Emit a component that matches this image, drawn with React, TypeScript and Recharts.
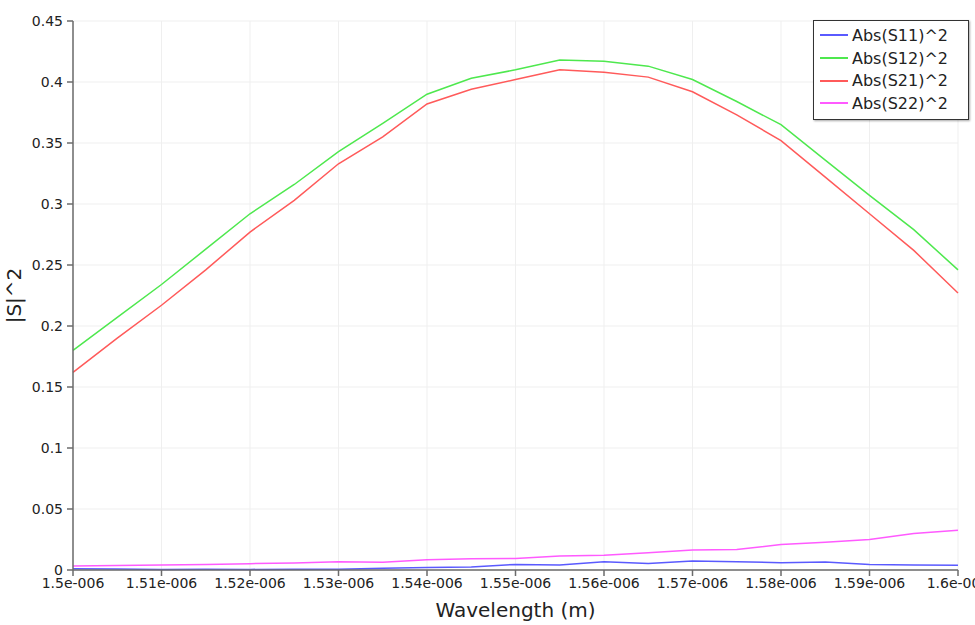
import { CartesianGrid, Label, Legend, Line, LineChart, XAxis, YAxis } from "recharts"

// wavelength samples (m)
const wavelengths = [
  1.5e-6, 1.505e-6, 1.51e-6, 1.515e-6, 1.52e-6, 1.525e-6, 1.53e-6, 1.535e-6, 1.54e-6, 1.545e-6, 1.55e-6,
  1.555e-6, 1.56e-6, 1.565e-6, 1.57e-6, 1.575e-6, 1.58e-6, 1.585e-6, 1.59e-6, 1.595e-6, 1.6e-6,
]

const s11 = [
  0.0011, 0.0008, 0.0005, 0.0006, 0.0005, 0.0006, 0.0007, 0.0014, 0.002, 0.0025, 0.0046, 0.004, 0.0068, 0.0054,
  0.0073, 0.0068, 0.006, 0.0065, 0.0046, 0.004, 0.0038,
]
const s12 = [
  0.18, 0.207, 0.234, 0.263, 0.292, 0.316, 0.343, 0.366, 0.39, 0.403, 0.41, 0.418, 0.417, 0.413, 0.402, 0.384,
  0.365, 0.336, 0.307, 0.279, 0.246,
]
const s21 = [
  0.162, 0.19, 0.217, 0.246, 0.277, 0.303, 0.333, 0.355, 0.382, 0.394, 0.402, 0.41, 0.408, 0.404, 0.392, 0.373,
  0.352, 0.322, 0.292, 0.262, 0.227,
]
const s22 = [
  0.0033, 0.0037, 0.0041, 0.0046, 0.0052, 0.0058, 0.0068, 0.0064, 0.0085, 0.0092, 0.0095, 0.0114, 0.012, 0.0141,
  0.0163, 0.0168, 0.0209, 0.0228, 0.025, 0.0299, 0.0326,
]

const xTicks = [1.5e-6, 1.51e-6, 1.52e-6, 1.53e-6, 1.54e-6, 1.55e-6, 1.56e-6, 1.57e-6, 1.58e-6, 1.59e-6, 1.6e-6]
const xTickLabels = [
  "1.5e-006", "1.51e-006", "1.52e-006", "1.53e-006", "1.54e-006", "1.55e-006",
  "1.56e-006", "1.57e-006", "1.58e-006", "1.59e-006", "1.6e-006",
]
const yTicks = [0, 0.05, 0.1, 0.15, 0.2, 0.25, 0.3, 0.35, 0.4, 0.45]
const yTickLabels = ["0", "0.05", "0.1", "0.15", "0.2", "0.25", "0.3", "0.35", "0.4", "0.45"]

const data = wavelengths.map((wl, i) => ({ wl, s11: s11[i], s12: s12[i], s21: s21[i], s22: s22[i] }))

const font = "DejaVu Sans, sans-serif"
const axisColor = "#6b6b6b"

function LegendBox({ payload }: any) {
  return (
    <div
      style={{
        border: "1.5px solid #333",
        boxShadow: "1px 1px 2px rgba(0,0,0,0.35)",
        background: "#fff",
        padding: "3px 6px 4px 6px",
        fontFamily: font,
        fontSize: 16,
        color: "#222",
      }}
    >
      {(payload || []).map((p: any) => (
        <div key={p.value} style={{ display: "flex", alignItems: "center", height: 22.7 }}>
          <span style={{ display: "inline-block", width: 28, height: 2, background: p.color, marginRight: 4 }} />
          <span>{p.value}</span>
        </div>
      ))}
    </div>
  )
}

export default function App() {
  return (
    <div style={{ position: "absolute", left: 0, top: 0, width: 975, height: 625, background: "#fff" }}>
      <LineChart width={975} height={625} data={data} margin={{ top: 21, right: 17, bottom: 0, left: 0 }}>
        <CartesianGrid stroke="#efefef" strokeWidth={1} />
        <XAxis
          dataKey="wl"
          type="number"
          domain={[1.5e-6, 1.6e-6]}
          ticks={xTicks}
          tickFormatter={(_v: number, i: number) => xTickLabels[i]}
          height={55}
          tickSize={6}
          tickMargin={2}
          stroke={axisColor}
          strokeWidth={1.5}
          tick={{ fill: "#222", fontFamily: font, fontSize: 14 }}
          interval={0}
        >
          <Label
            value="Wavelength (m)"
            position="insideBottom"
            offset={8}
            style={{ fill: "#222", fontFamily: font, fontSize: 20 }}
          />
        </XAxis>
        <YAxis
          type="number"
          domain={[0, 0.45]}
          ticks={yTicks}
          tickFormatter={(_v: number, i: number) => yTickLabels[i]}
          width={73}
          tickSize={6}
          tickMargin={4}
          stroke={axisColor}
          strokeWidth={1.5}
          tick={{ fill: "#222", fontFamily: font, fontSize: 14 }}
          interval={0}
        >
          <Label
            content={({ viewBox }: any) => {
              const cy = viewBox.y + viewBox.height / 2
              return (
                <text
                  x={14}
                  y={cy}
                  transform={`rotate(-90 14 ${cy})`}
                  textAnchor="middle"
                  dominantBaseline="central"
                  style={{ fill: "#222", fontFamily: font, fontSize: 20 }}
                >
                  |S|^2
                </text>
              )
            }}
          />
        </YAxis>
        <Legend
          layout="vertical"
          verticalAlign="middle"
          align="center"
          content={<LegendBox />}
          wrapperStyle={{ top: 20, left: 813, width: 156, right: "auto", bottom: "auto" }}
        />
        <Line name="Abs(S11)^2" dataKey="s11" type="linear" stroke="#5a5aff" strokeWidth={1.5} dot={false} isAnimationActive={false} />
        <Line name="Abs(S12)^2" dataKey="s12" type="linear" stroke="#4ee84e" strokeWidth={1.5} dot={false} isAnimationActive={false} />
        <Line name="Abs(S21)^2" dataKey="s21" type="linear" stroke="#ff5a5a" strokeWidth={1.5} dot={false} isAnimationActive={false} />
        <Line name="Abs(S22)^2" dataKey="s22" type="linear" stroke="#ff5aff" strokeWidth={1.5} dot={false} isAnimationActive={false} />
      </LineChart>
    </div>
  )
}
